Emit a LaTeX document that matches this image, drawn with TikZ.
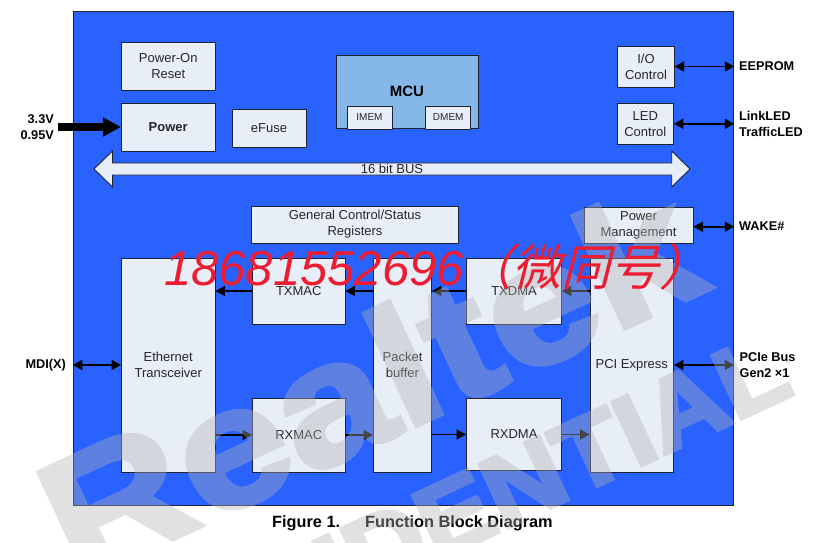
\documentclass[tikz,border=0pt]{standalone}
\usepackage{fontspec}
\setmainfont{Liberation Sans}
\newfontfamily\cjkfont[FakeSlant=0.25]{Noto Sans CJK SC}
\newfontfamily\wmrealfont[FakeStretch=1.16,FakeBold=3]{Liberation Sans Bold}
\newfontfamily\wmconffont[FakeStretch=1.1,FakeBold=4.5]{Liberation Sans Bold}
\usetikzlibrary{arrows.meta}
\definecolor{bgblue}{RGB}{41,98,255}
\definecolor{boxfill}{RGB}{232,238,248}
\definecolor{mcufill}{RGB}{133,183,232}
\definecolor{edge}{RGB}{30,35,50}
\definecolor{wmgray}{RGB}{180,180,180}
\definecolor{phonered}{RGB}{238,28,48}
\newcommand{\fs}[2]{\fontsize{#1}{#2}\selectfont}
\tikzset{
  x=1pt,y=-1pt,
  blk/.style={draw=edge,fill=boxfill,line width=0.9pt,inner sep=0pt,align=center,font=\fs{13}{16},text=black!85},
  sideb/.style={inner sep=0pt,align=left,font=\bfseries\fs{12.7}{16},anchor=west,text=black},
  sider/.style={inner sep=0pt,align=right,font=\bfseries\fs{12.7}{16},anchor=east,text=black},
  dbl/.style={line width=1.8pt,black,{Triangle[length=9.5pt,width=10pt]}-{Triangle[length=9.5pt,width=10pt]}},
  one/.style={line width=1.8pt,black,-{Triangle[length=9.5pt,width=10pt]}},
  wm/.style={text=wmgray,inner sep=0pt,rotate=25},
}
\begin{document}
\begin{tikzpicture}
\path[use as bounding box] (0,0) rectangle (839,543);
\clip (0,0) rectangle (839,543);
\fill[white] (0,0) rectangle (839,543);
% main panel
\node[draw=edge,fill=bgblue,line width=1pt,minimum width=660.5pt,minimum height=493.5pt,inner sep=0pt] (panel) at (403.5,258.5) {};
% upper blocks
\node[blk,minimum width=93.5pt,minimum height=48pt] (por) at (168.25,66) {Power-On\\Reset};
\node[blk,minimum width=93.5pt,minimum height=48pt] (power) at (168.25,127) {\bfseries Power};
\node[blk,minimum width=74pt,minimum height=38pt] (efuse) at (269,128) {eFuse};
\node[draw=edge,fill=mcufill,line width=0.9pt,minimum width=142pt,minimum height=73.5pt,inner sep=0pt] (mcu) at (407,91.75) {};
\node[inner sep=0pt,font=\bfseries\fs{15}{18},text=black] (mcutxt) at (407,91) {MCU};
\node[blk,minimum width=45pt,minimum height=23pt,font=\fs{10}{12}] (imem) at (369.5,117.5) {IMEM};
\node[blk,minimum width=45pt,minimum height=23pt,font=\fs{10}{12}] (dmem) at (448.25,117.5) {DMEM};
\node[blk,minimum width=56.5pt,minimum height=41pt] (io) at (646,66.5) {I/O\\Control};
\node[blk,minimum width=56.5pt,minimum height=41.5pt] (led) at (645.25,123.75) {LED\\Control};
% bus
\filldraw[draw=edge,fill=boxfill,line width=0.9pt] (94,169) -- (112.5,151) -- (112.5,163) -- (671.7,163) -- (671.7,151) -- (690,169) -- (671.7,187) -- (671.7,175) -- (112.5,175) -- (112.5,187) -- cycle;
\node[inner sep=0pt,font=\fs{13}{16},text=black!85] (bus) at (392,168.5) {16 bit BUS};
% lower blocks
\node[blk,minimum width=207pt,minimum height=37pt] (gcsr) at (355,224.5) {General Control/Status\\Registers};
\node[blk,minimum width=109pt,minimum height=35.5pt] (pm) at (638.5,225.5) {Power\\Management};
\node[blk,minimum width=93.5pt,minimum height=214pt] (eth) at (168.25,365) {Ethernet\\Transceiver};
\node[blk,minimum width=92.5pt,minimum height=66pt] (txmac) at (298.75,291) {TXMAC};
\node[blk,minimum width=92.5pt,minimum height=74pt] (rxmac) at (298.75,435) {RXMAC};
\node[blk,minimum width=58pt,minimum height=214pt] (pkt) at (402.5,365) {Packet\\buffer};
\node[blk,minimum width=95pt,minimum height=66pt] (txdma) at (514,291) {TXDMA};
\node[blk,minimum width=95pt,minimum height=72.5pt] (rxdma) at (514,434.5) {RXDMA};
\node[blk,minimum width=83.5pt,minimum height=214pt] (pci) at (631.75,365) {PCI Express};
% internal connectors
\draw[one] (txmac.west) -- (txmac.west -| eth.east);
\draw[one] (pkt.west |- txmac.east) -- (txmac.east);
\draw[one] (txdma.west) -- (txdma.west -| pkt.east);
\draw[one] (pci.west |- txdma.east) -- (txdma.east);
\draw[one] (eth.east |- rxmac.west) -- (rxmac.west);
\draw[one] (rxmac.east) -- (rxmac.east -| pkt.west);
\draw[one] (pkt.east |- rxdma.west) -- (rxdma.west);
\draw[one] (rxdma.east) -- (rxdma.east -| pci.west);
% external labels
\node[sider] (vin) at (54,127) {3.3V\\0.95V};
\node[sider] (mdi) at (66,365) {MDI(X)};
\node[sideb] (eeprom) at (739,66.5) {EEPROM};
\node[sideb] (ledsig) at (739,123.5) {LinkLED\\TrafficLED};
\node[sideb] (wake) at (739,226.5) {WAKE\#};
\node[sideb] (pcie) at (739.5,365) {PCIe Bus\\Gen2 ×1};
% external connectors
\coordinate (vstart) at (58,127);
\draw[line width=8pt,black,-{Triangle[length=18pt,width=18pt]}] (vstart) -- (power.west);
\draw[dbl] (io.east) -- (io.east -| panel.east);
\draw[dbl] (led.east) -- (led.east -| panel.east);
\draw[dbl] ([yshift=-1.2pt]pm.east) -- ([yshift=-1.2pt]pm.east -| panel.east);
\draw[dbl] (pci.east) -- (pci.east -| panel.east);
\draw[dbl] (panel.west |- eth.west) -- (eth.west);
% caption
\node[inner sep=0pt,anchor=base west,font=\bfseries\fs{16.3}{18},text=black] (figno) at (272,527.5) {Figure 1.};
\node[inner sep=0pt,anchor=base west,font=\bfseries\fs{16.3}{18},text=black] (figcap) at (365,527.5) {Function Block Diagram};
% watermark
\begin{scope}[transparency group,opacity=0.39]
\node[wm,anchor=base west,font=\wmrealfont\fs{170}{180}] (wmreal) at (76.3,584) {Realtek};
\node[wm,anchor=base east,font=\wmconffont\fs{100}{110}] (wmconf) at (796,393) {CONFIDENTIAL};
\end{scope}
% red overlay
\node[inner sep=0pt,anchor=base west,text=phonered,font=\fs{49}{50}] (phone) at (164,285) {\itshape 18681552696{\cjkfont （微同号）}};
\end{tikzpicture}
\end{document}
